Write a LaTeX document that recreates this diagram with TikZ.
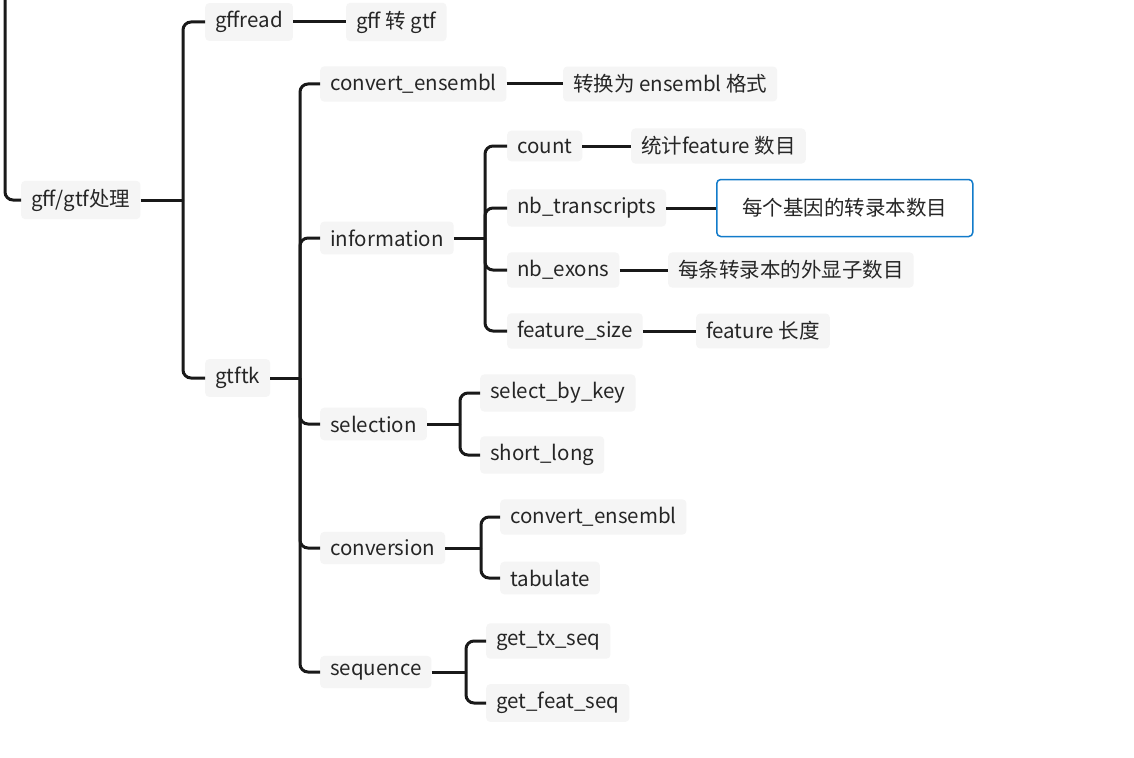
\documentclass[tikz,border=0pt]{standalone}
\usepackage{fontspec}
\setmainfont{Noto Sans CJK SC}
\begin{document}
\begin{tikzpicture}[x=1pt,y=-1pt,
 nd/.style={anchor=west,fill=black!4,rounded corners=4pt,inner xsep=10pt,inner ysep=8pt,font=\fontsize{20.5}{24}\selectfont,text=black!85},
 ln/.style={line width=3pt,rounded corners=8pt,black!90}]
\fill[white] (0,0) rectangle (1134,757);
\useasboundingbox (0,0) rectangle (1134,757);
\node[nd] (root) at (21,200) {gff/gtf处理};
\node[nd] (gffread) at (205,22) {gffread};
\node[nd] (g2g) at (346,22) {gff 转 gtf};
\node[nd] (gtftk) at (205,378) {gtftk};
\node[nd] (ce) at (320,84) {convert\_ensembl};
\node[nd] (cet) at (563,84) {转换为 ensembl 格式};
\node[nd] (info) at (320,238) {information};
\node[nd] (count) at (507,146) {count};
\node[nd] (countt) at (631,146) {统计feature 数目};
\node[nd] (nbt) at (507,208) {nb\_transcripts};
\node[nd,fill=white,draw=cyan!60!blue,line width=1.5pt,minimum width=256pt,minimum height=57pt] (nbtt) at (716,208) {每个基因的转录本数目\hspace{18pt}};
\node[nd] (nbe) at (507,270) {nb\_exons};
\node[nd] (nbet) at (668,270) {每条转录本的外显子数目};
\node[nd] (fs) at (507,331) {feature\_size};
\node[nd] (fst) at (696,331) {feature 长度};
\node[nd] (sel) at (320,424) {selection};
\node[nd] (sbk) at (480,393) {select\_by\_key};
\node[nd] (sl) at (480,455) {short\_long};
\node[nd] (conv) at (320,548) {conversion};
\node[nd] (ce2) at (500,517) {convert\_ensembl};
\node[nd] (tab) at (500,578) {tabulate};
\node[nd] (seq) at (320,672) {sequence};
\node[nd] (gtx) at (486,641) {get\_tx\_seq};
\node[nd] (gfs) at (486,703) {get\_feat\_seq};
\coordinate (top) at (5,0);
\draw[ln] (top) |- (root.west);
\coordinate (b1) at (183,200);
\draw[ln] (root.east) -- (b1);
\draw[ln] (b1) |- (gffread.west);
\draw[ln] (b1) |- (gtftk.west);
\draw[ln] (gffread.east) -- (g2g.west);
\coordinate (b2) at (300,378);
\draw[ln] (gtftk.east) -- (b2);
\foreach \c in {ce,info,sel,conv,seq} \draw[ln] (b2) |- (\c.west);
\draw[ln] (ce.east) -- (cet.west);
\coordinate (b3) at (485,238);
\draw[ln] (info.east) -- (b3);
\foreach \c in {count,nbt,nbe,fs} \draw[ln] (b3) |- (\c.west);
\draw[ln] (count.east) -- (countt.west);
\draw[ln] (nbt.east) -- (nbtt.west);
\draw[ln] (nbe.east) -- (nbet.west);
\draw[ln] (fs.east) -- (fst.west);
\coordinate (b4) at (460,424);
\draw[ln] (sel.east) -- (b4);
\foreach \c in {sbk,sl} \draw[ln] (b4) |- (\c.west);
\coordinate (b5) at (481,548);
\draw[ln] (conv.east) -- (b5);
\foreach \c in {ce2,tab} \draw[ln] (b5) |- (\c.west);
\coordinate (b6) at (466,672);
\draw[ln] (seq.east) -- (b6);
\foreach \c in {gtx,gfs} \draw[ln] (b6) |- (\c.west);
\end{tikzpicture}
\end{document}
